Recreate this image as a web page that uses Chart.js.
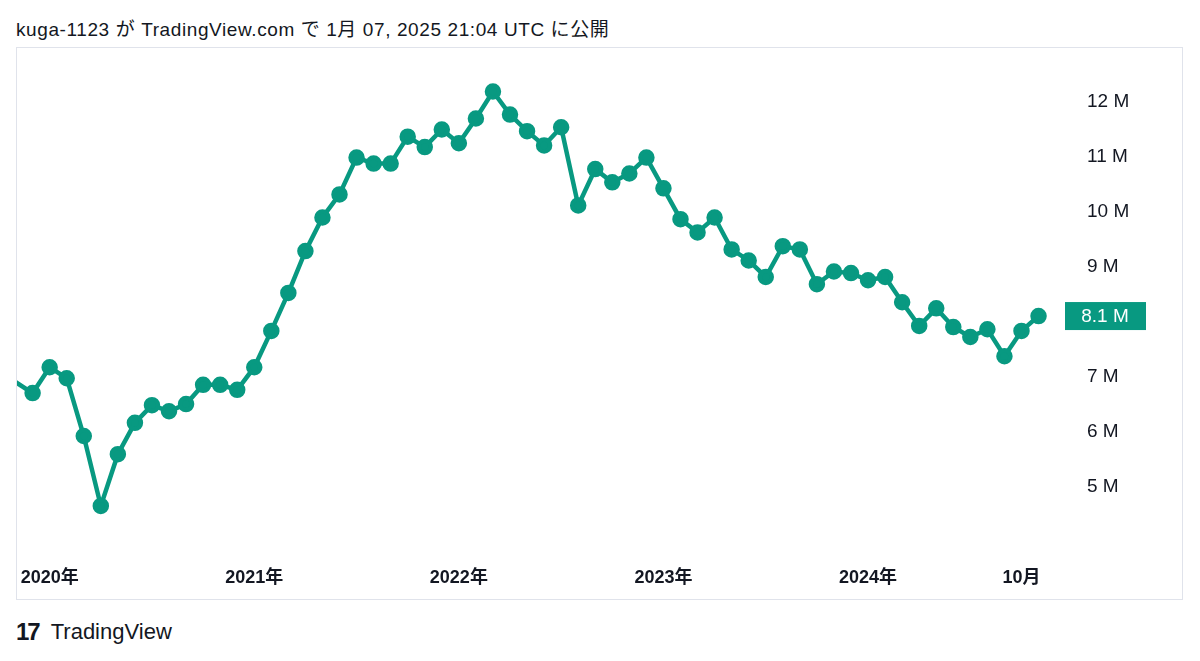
<!DOCTYPE html>
<html><head><meta charset="utf-8">
<script src="https://cdn.jsdelivr.net/npm/chart.js@4"></script>
<style>
body{margin:0;background:#fff;font-family:"Liberation Sans","Noto Sans CJK JP",sans-serif;color:#131722;}
#title{position:absolute;left:16px;top:14px;font-size:19px;letter-spacing:0.6px;}
#box{position:absolute;left:16px;top:47px;width:1165px;height:551px;border:1px solid #e0e3eb;}
#foot{position:absolute;left:16px;top:618px;font-size:22px;display:flex;align-items:center;gap:12px;}
</style></head><body>
<div id="title">kuga-1123 が TradingView.com で 1月 07, 2025 21:04 UTC に公開</div>
<div id="box"><canvas id="c" width="1165" height="551"></canvas></div>
<div id="foot"><span style="font-weight:900;font-size:24px;letter-spacing:-2px;font-family:'Liberation Sans'">17</span><span>TradingView</span></div>
<script>
const values=[6.90,6.70,7.17,6.97,5.92,4.65,5.59,6.16,6.48,6.37,6.50,6.85,6.85,6.76,7.17,7.83,8.52,9.28,9.89,10.31,10.98,10.87,10.87,11.36,11.17,11.49,11.24,11.69,12.18,11.76,11.46,11.20,11.53,10.11,10.77,10.53,10.69,10.98,10.42,9.86,9.62,9.89,9.31,9.11,8.81,9.37,9.31,8.68,8.91,8.88,8.75,8.81,8.35,7.92,8.24,7.90,7.72,7.86,7.37,7.83,8.10];
const tickPos=[2,14,26,38,50,59];
const tickLabels=["2020年","2021年","2022年","2023年","2024年","10月"];
const yTicks=[5,6,7,8,9,10,11,12];
const green="#089981";
const tag={id:'tag',afterDraw(ch){const c=ch.ctx,y=ch.scales.y.getPixelForValue(values[values.length-1]);
 const x=ch.chartArea.right+6;c.save();c.fillStyle=green;c.fillRect(x,y-14,81,28);
 c.fillStyle="#fff";c.font="19px 'Liberation Sans'";c.textBaseline="middle";c.textAlign="center";
 c.fillText(values[values.length-1].toFixed(1)+" M",x+40,y+1);c.restore();}};
new Chart(document.getElementById('c'),{type:'line',
 data:{datasets:[{data:values.map((v,i)=>({x:i,y:v})),borderColor:green,backgroundColor:green,borderWidth:4.5,pointRadius:6,pointHoverRadius:6,tension:0,clip:false}]},
 options:{responsive:false,animation:false,layout:{padding:{left:2}},plugins:{legend:{display:false},tooltip:{enabled:false}},
 scales:{
  x:{type:'linear',min:0.7,max:61.2,grid:{display:false},border:{display:false},
   afterBuildTicks(s){s.ticks=tickPos.map(v=>({value:v}));},
   afterFit(s){s.height=43;},
   ticks:{autoSkip:false,maxRotation:0,padding:3,color:"#131722",font:{size:18,weight:'bold',family:"'Liberation Sans','Noto Sans CJK JP'"},
    callback:(v)=>{const i=tickPos.indexOf(v);return i<0?'':tickLabels[i];}}},
  y:{position:'right',min:3.74,max:12.40,grid:{display:false},border:{display:false},
   afterBuildTicks(s){s.ticks=yTicks.map(v=>({value:v}));},
   afterFit(s){s.width=123;},
   ticks:{padding:20,color:"#131722",font:{size:19,family:"'Liberation Sans'"},callback:v=>v+" M"}}}},
 plugins:[tag]});
</script></body></html>
